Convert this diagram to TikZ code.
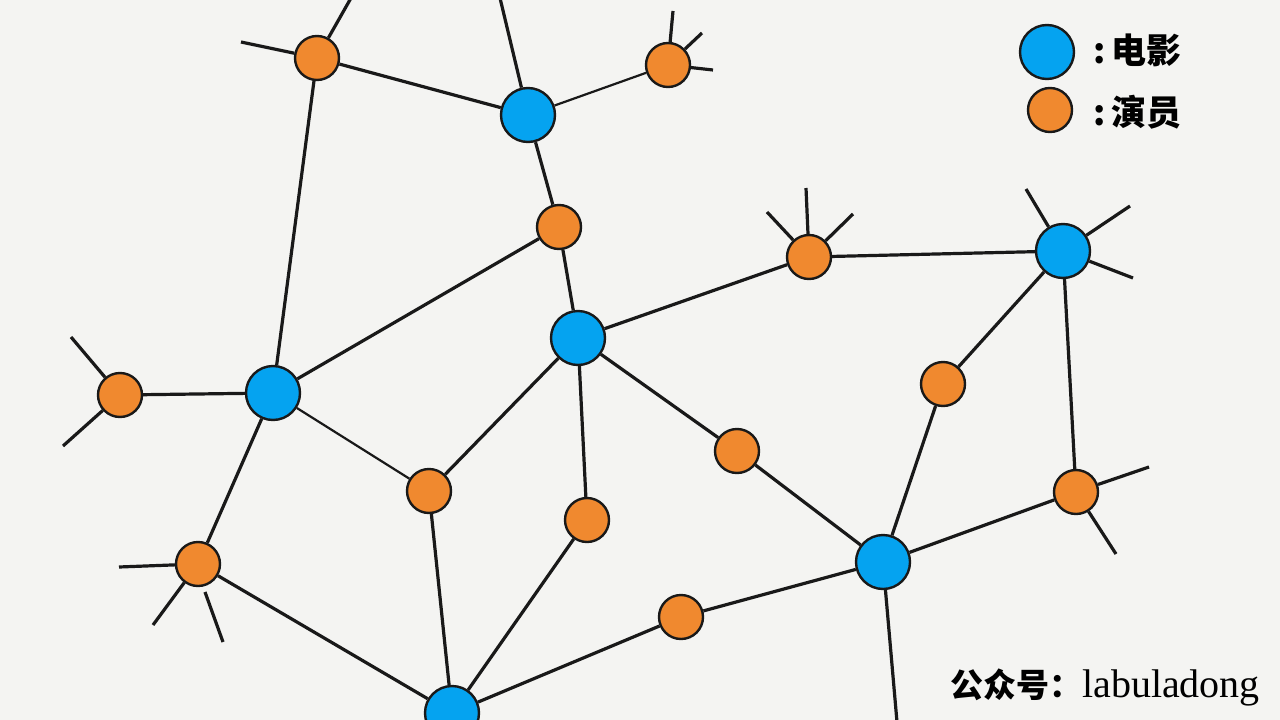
\documentclass[tikz,border=0pt]{standalone}
\usepackage{fontspec}
\setmainfont{Liberation Serif}
\newfontfamily\cjk{Noto Sans CJK SC}
\definecolor{paper}{HTML}{F4F4F2}
\definecolor{mblue}{HTML}{05A3F0}
\definecolor{aorange}{HTML}{F0892F}
\begin{document}
\begin{tikzpicture}[x=1pt,y=-1pt,
  edge/.style={line width=3.2pt, black!90},
  movie/.style={circle, draw=black!90, line width=2.4pt, fill=mblue, minimum size=54pt, inner sep=0pt},
  actor/.style={circle, draw=black!90, line width=2.4pt, fill=aorange, minimum size=44pt, inner sep=0pt},
  lbl/.style={anchor=west, inner sep=0pt, font=\cjk\bfseries\fontsize{35}{35}\selectfont}]
\fill[paper] (0,0) rectangle (1280,720);
\useasboundingbox (0,0) rectangle (1280,720);
% nodes
\node[movie] (B1) at (528,115) {};
\node[movie] (B2) at (578,338) {};
\node[movie] (B3) at (273,393) {};
\node[movie] (B4) at (1063,251) {};
\node[movie] (B5) at (883,562) {};
\node[movie] (B6) at (452,713) {};
\node[actor] (O1) at (317,58) {};
\node[actor] (O2) at (668,65) {};
\node[actor] (O3) at (559,227) {};
\node[actor] (O4) at (809,257) {};
\node[actor] (O5) at (120,395) {};
\node[actor] (O6) at (943,384) {};
\node[actor] (O7) at (737,451) {};
\node[actor] (O8) at (429,491) {};
\node[actor] (O9) at (587,520) {};
\node[actor] (O10) at (1076,492) {};
\node[actor] (O11) at (198,564) {};
\node[actor] (O12) at (681,617) {};
% free ends
\coordinate (s1a) at (241,42);
\coordinate (s1b) at (351,-2);
\coordinate (sB1) at (500,-2);
\coordinate (s2a) at (673,11);
\coordinate (s2b) at (702,33);
\coordinate (s2c) at (713,70);
\coordinate (s4a) at (767,212);
\coordinate (s4b) at (806,188);
\coordinate (s4c) at (853,214);
\coordinate (sB4a) at (1026,189);
\coordinate (sB4b) at (1130,206);
\coordinate (sB4c) at (1133,278);
\coordinate (s5a) at (71,337);
\coordinate (s5b) at (63,446);
\coordinate (s11a) at (119,567);
\coordinate (s11b) at (153,625);
\coordinate (s11c) at (205,592);
\coordinate (s11d) at (223,642);
\coordinate (s10a) at (1149,467);
\coordinate (s10b) at (1116,554);
\coordinate (sB5) at (897,722);
% edges
\draw[edge] (O1) -- (B1);
\draw[edge] (O1) -- (B3);
\draw[edge] (O1) -- (s1a);
\draw[edge] (O1) -- (s1b);
\draw[edge] (B1) -- (sB1);
\draw[edge, line width=2.2pt] (B1) -- (O2);
\draw[edge] (O2) -- (s2a);
\draw[edge] (O2) -- (s2b);
\draw[edge] (O2) -- (s2c);
\draw[edge] (B1) -- (O3);
\draw[edge] (O3) -- (B2);
\draw[edge] (O3) -- (B3);
\draw[edge] (B2) -- (O4);
\draw[edge] (B2) -- (O8);
\draw[edge] (B2) -- (O9);
\draw[edge] (B2) -- (O7);
\draw[edge] (O4) -- (B4);
\draw[edge] (O4) -- (s4a);
\draw[edge] (O4) -- (s4b);
\draw[edge] (O4) -- (s4c);
\draw[edge] (B4) -- (sB4a);
\draw[edge] (B4) -- (sB4b);
\draw[edge] (B4) -- (sB4c);
\draw[edge] (B4) -- (O6);
\draw[edge] (B4) -- (O10);
\draw[edge] (O6) -- (B5);
\draw[edge] (O7) -- (B5);
\draw[edge] (O10) -- (B5);
\draw[edge] (O10) -- (s10a);
\draw[edge] (O10) -- (s10b);
\draw[edge] (B5) -- (O12);
\draw[edge] (B5) -- (sB5);
\draw[edge] (O12) -- (B6);
\draw[edge] (O9) -- (B6);
\draw[edge] (O8) -- (B6);
\draw[edge, line width=2.2pt] (O8) -- (B3);
\draw[edge] (B3) -- (O5);
\draw[edge] (B3) -- (O11);
\draw[edge] (O11) -- (B6);
\draw[edge] (O5) -- (s5a);
\draw[edge] (O5) -- (s5b);
\draw[edge] (O11) -- (s11a);
\draw[edge] (O11) -- (s11b);
\draw[edge] (s11c) -- (s11d);
% legend
\node[movie] (LB) at (1047,52) {};
\node[actor] (LO) at (1050,110) {};
\node[lbl] (LBt) at (1093,50) {:\kern6pt 电影};
\node[lbl] (LOt) at (1093,112) {:\kern6pt 演员};
% watermark
\node[anchor=base west, inner sep=0pt] (wm) at (950,697) {{\cjk\bfseries\fontsize{33}{33}\selectfont 公众号：}{\fontsize{40}{40}\selectfont labuladong}};
\end{tikzpicture}
\end{document}
